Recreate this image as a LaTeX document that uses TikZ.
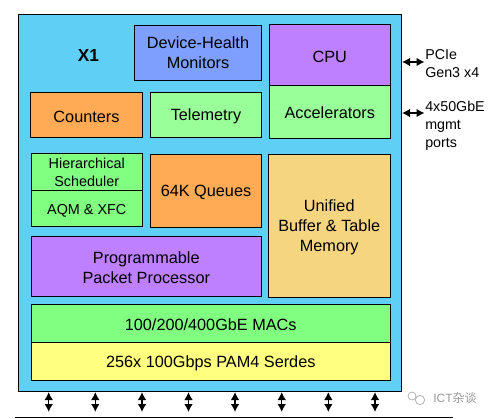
\documentclass[tikz,border=0pt]{standalone}
\usepackage{fontspec}
\setmainfont{Liberation Sans}
\newfontfamily\cjk{Noto Sans CJK SC}
\usepackage{xcolor}
\usetikzlibrary{arrows.meta,calc,positioning}
\definecolor{chipblue}{HTML}{5FCFF5}
\definecolor{monblue}{HTML}{7F9FFF}
\definecolor{blkorange}{HTML}{FFAA55}
\definecolor{blkmint}{HTML}{99FF99}
\definecolor{blkgreen}{HTML}{80FF80}
\definecolor{blkpurple}{HTML}{BF80FF}
\definecolor{blktan}{HTML}{F5D580}
\definecolor{blkyellow}{HTML}{FFFF80}
\tikzset{
  blk/.style={draw=black,line width=0.75pt,inner sep=0pt,align=center,font=\fontsize{12.2}{15}\selectfont,execute at begin node={\rule{0pt}{11.2pt}}},
  smallblk/.style={blk,font=\fontsize{10.8}{13}\selectfont,execute at begin node={\rule{0pt}{10pt}}},
  port/.style={{Latex[length=6pt,width=6.5pt]}-{Latex[length=6pt,width=6.5pt]},line width=1.1pt},
  portlabel/.style={anchor=west,inner sep=0pt,align=left,font=\fontsize{10.7}{13.4}\selectfont}
}
\begin{document}
\begin{tikzpicture}[x=0.75pt,y=-0.75pt]
\useasboundingbox (0,0) rectangle (491,418);
% chip outline
\node[blk,fill=chipblue,minimum width=287.25pt,minimum height=282.75pt] (chip) at (210,203) {};
\node[font=\fontsize{13}{15}\selectfont\bfseries,inner sep=0pt] (name) at (88.5,55.5) {X1};
% top row
\node[blk,fill=monblue,minimum width=95.25pt,minimum height=41.25pt] (monitors) at (198,52.5) {Device-Health\\Monitors};
\node[blk,fill=blkpurple,minimum width=90.75pt,minimum height=45.75pt] (cpu) at (329.75,54.75) {CPU};
\node[blk,fill=blkmint,minimum width=90.75pt,minimum height=39.75pt] (accel) at (329.75,111.5) {Accelerators};
\node[blk,fill=blkorange,minimum width=84pt,minimum height=33.75pt] (counters) at (86.5,114.75) {Counters};
\node[blk,fill=blkmint,minimum width=83.25pt,minimum height=33.75pt] (telemetry) at (206,114.75) {Telemetry};
% middle
\node[smallblk,fill=blkgreen,minimum width=83.25pt,minimum height=27.4pt] (sched) at (86.75,172.25) {Hierarchical\\Scheduler};
\node[smallblk,fill=blkgreen,minimum width=83.25pt,minimum height=27pt] (aqm) at (86.75,208.5) {AQM \& XFC};
\node[blk,fill=blkorange,minimum width=83.25pt,minimum height=54.75pt] (queues) at (206,190.5) {64K Queues};
\node[blk,fill=blktan,minimum width=91.5pt,minimum height=107.25pt] (buffer) at (329.25,225.5) {{}\\[-3pt]Unified\\Buffer \& Table\\Memory};
\node[blk,fill=blkpurple,minimum width=172.5pt,minimum height=45pt] (ppp) at (146.25,266) {{}\\[-3pt]Programmable\\Packet Processor};
% bottom
\node[blk,fill=blkgreen,minimum width=269.6pt,minimum height=28.5pt] (macs) at (210.75,323.5) {100/200/400GbE MACs};
\node[blk,fill=blkyellow,minimum width=269.6pt,minimum height=28.5pt] (serdes) at (210.75,361.5) {256x 100Gbps PAM4 Serdes};
% side ports
\coordinate (pcieend) at (424.5,62);
\coordinate (mgmtend) at (424.5,113);
\draw[port] (chip.east|-pcieend) -- (pcieend);
\draw[port] (chip.east|-mgmtend) -- (mgmtend);
\node[portlabel] (pcie) at (425,63.5) {PCIe\\Gen3 x4};
\node[portlabel] (mgmt) at (425,125.5) {4x50GbE\\mgmt\\ports};
% serdes lanes
\draw[line width=0.75pt] (15,417)--(453,417);
\foreach \i/\x in {1/48.7,2/95.3,3/142,4/188.5,5/235,6/281.7,7/328.3,8/375}{
  \coordinate (lane\i) at (\x,412);
  \draw[port] (chip.south-|lane\i) -- (lane\i);
}
% watermark
\node[anchor=west,inner sep=0pt,text=black!40,font=\fontsize{9}{11}\selectfont] (mark) at (433,397.5) {ICT{\cjk 杂谈}};
\draw[black!30,line width=0.6pt] (412,396) circle (3pt);
\draw[black!30,line width=0.6pt] (420,400) circle (3.5pt);
\end{tikzpicture}
\end{document}
